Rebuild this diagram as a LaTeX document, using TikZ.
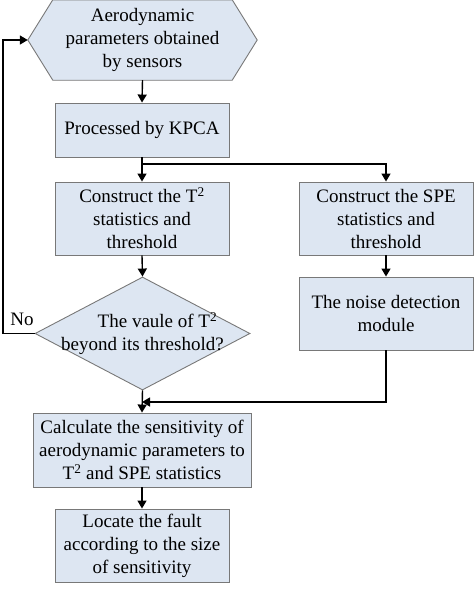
\documentclass[tikz,border=0pt]{standalone}
\usepackage{fontspec}
\setmainfont{Liberation Serif}
\usetikzlibrary{shapes.geometric,arrows.meta,calc}
\definecolor{boxfill}{RGB}{221,230,242}
\definecolor{boxline}{RGB}{120,120,120}
\tikzset{
  stepbox/.style={draw=boxline, fill=boxfill, line width=0.9pt, inner sep=0pt, align=center,
     font=\fontsize{19}{23}\selectfont},
  decision/.style={diamond, draw=boxline, fill=boxfill, line width=0.9pt, inner sep=0pt, aspect=1.9},
  flow/.style={line width=1.4pt, -{Triangle[length=8pt,width=9pt]}},
  lbl/.style={font=\fontsize{19}{23}\selectfont, inner sep=0pt}
}
\begin{document}
\begin{tikzpicture}[x=1pt,y=-1pt]
\useasboundingbox (0,0) rectangle (474,611);
% hexagon (input)
\node[inner sep=0pt, minimum width=229pt, minimum height=80pt] (hex) at (142.5,40) {};
\path[draw=boxline, fill=boxfill, line width=0.9pt]
  (hex.west) -- ($(hex.north west)+(25,0)$) -- ($(hex.north east)+(-25,0)$) -- (hex.east)
  -- ($(hex.south east)+(-25,0)$) -- ($(hex.south west)+(25,0)$) -- cycle;
\node[lbl, align=center] (hext) at (hex.center) {Aerodynamic\\parameters obtained\\by sensors};
% boxes
\node[stepbox, minimum width=174pt, minimum height=54pt] (kpca) at (142,130) {Processed by KPCA};
\node[stepbox, minimum width=174pt, minimum height=73pt] (t2) at (142,218.5) {Construct the T\textsuperscript{2}\\statistics and\\threshold};
\node[stepbox, minimum width=174pt, minimum height=73pt] (spe) at (386,218.5) {Construct the SPE\\statistics and\\threshold};
\node[decision, minimum width=215pt, minimum height=113pt] (diam) at (142.5,333.5) {};
\node[lbl, align=center] (diamt) at (diam.center) {\hspace*{30pt}The vaule of T\textsuperscript{2}\\beyond its threshold?};
\node[stepbox, minimum width=174pt, minimum height=73pt] (noise) at (386,313.5) {The noise detection\\module};
\node[stepbox, minimum width=218pt, minimum height=74pt] (calc) at (142,450) {Calculate the sensitivity of\\aerodynamic parameters to\\T\textsuperscript{2} and SPE statistics};
\node[stepbox, minimum width=174pt, minimum height=73pt] (loc) at (142,545.5) {Locate the fault\\according to the size\\of sensitivity};
% connector helpers
\coordinate (br) at (142,164);
\coordinate (jn) at (142,402);
\coordinate (lp) at (3,333.5);
% connectors
\draw[flow] (hex.south) -- (kpca.north);
\draw[flow] (kpca.south) -- (t2.north);
\draw[flow] (br) -| (spe.north);
\draw[flow] (t2.south) -- (diam.north);
\draw[flow] (spe.south) -- (noise.north);
\draw[flow] (noise.south) |- (jn);
\draw[flow] (diam.south) -- (calc.north);
\draw[flow] (calc.south) -- (loc.north);
\draw[flow] (diam.west) -- (lp) |- (hex.west);
\node[lbl] (no) at (22,319) {No};
\end{tikzpicture}
\end{document}
